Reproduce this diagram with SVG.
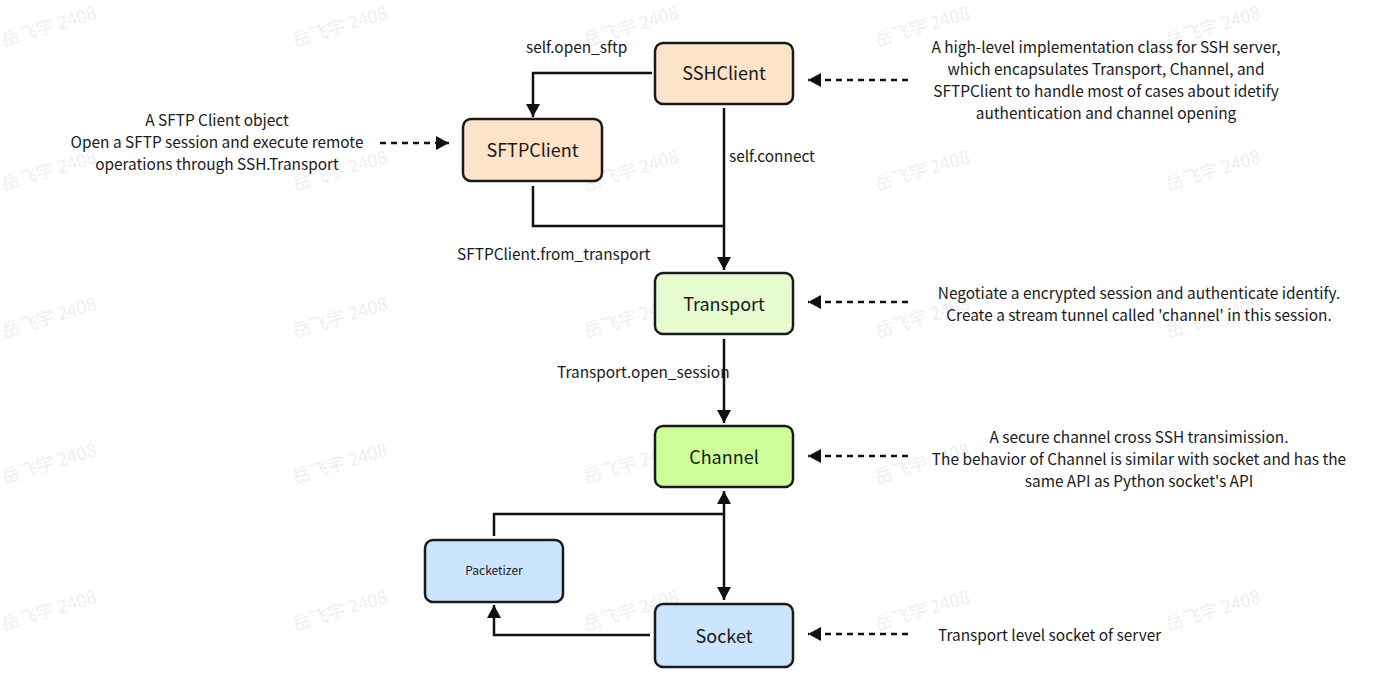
<svg xmlns="http://www.w3.org/2000/svg" width="1400" height="699" viewBox="0 0 1400 699">
<defs>
<style>
text{font-family:"Noto Sans CJK SC","Noto Sans",sans-serif;fill:#1a1a1a}
.wm{font-size:18px;fill:#efefef}
.node rect{stroke:#1a1a1a;stroke-width:2.5}
.lbl{font-size:18px;text-anchor:middle}
.t16{font-size:15.4px}
.mid{text-anchor:middle}
.conn{fill:none;stroke:#111;stroke-width:2.5}
.dash{fill:none;stroke:#111;stroke-width:2.5;stroke-dasharray:6 5}
</style>
<marker id="arr" markerUnits="userSpaceOnUse" markerWidth="14" markerHeight="14" refX="13" refY="7" orient="auto-start-reverse" viewBox="0 0 14 14">
<path d="M0,0 L13,7 L0,14 z" fill="#111"/>
</marker>
</defs>
<rect width="1400" height="699" fill="#fff"/>
<g id="watermarks">
<text class="wm" transform="translate(4,47) rotate(-17)">岳飞宇 2408</text>
<text class="wm" transform="translate(295,47) rotate(-17)">岳飞宇 2408</text>
<text class="wm" transform="translate(586,47) rotate(-17)">岳飞宇 2408</text>
<text class="wm" transform="translate(877,47) rotate(-17)">岳飞宇 2408</text>
<text class="wm" transform="translate(1168,47) rotate(-17)">岳飞宇 2408</text>
<text class="wm" transform="translate(4,191) rotate(-17)">岳飞宇 2408</text>
<text class="wm" transform="translate(295,191) rotate(-17)">岳飞宇 2408</text>
<text class="wm" transform="translate(586,191) rotate(-17)">岳飞宇 2408</text>
<text class="wm" transform="translate(877,191) rotate(-17)">岳飞宇 2408</text>
<text class="wm" transform="translate(1168,191) rotate(-17)">岳飞宇 2408</text>
<text class="wm" transform="translate(4,338) rotate(-17)">岳飞宇 2408</text>
<text class="wm" transform="translate(295,338) rotate(-17)">岳飞宇 2408</text>
<text class="wm" transform="translate(586,338) rotate(-17)">岳飞宇 2408</text>
<text class="wm" transform="translate(877,338) rotate(-17)">岳飞宇 2408</text>
<text class="wm" transform="translate(1168,338) rotate(-17)">岳飞宇 2408</text>
<text class="wm" transform="translate(4,484) rotate(-17)">岳飞宇 2408</text>
<text class="wm" transform="translate(295,484) rotate(-17)">岳飞宇 2408</text>
<text class="wm" transform="translate(586,484) rotate(-17)">岳飞宇 2408</text>
<text class="wm" transform="translate(877,484) rotate(-17)">岳飞宇 2408</text>
<text class="wm" transform="translate(1168,484) rotate(-17)">岳飞宇 2408</text>
<text class="wm" transform="translate(4,631) rotate(-17)">岳飞宇 2408</text>
<text class="wm" transform="translate(295,631) rotate(-17)">岳飞宇 2408</text>
<text class="wm" transform="translate(586,631) rotate(-17)">岳飞宇 2408</text>
<text class="wm" transform="translate(877,631) rotate(-17)">岳飞宇 2408</text>
<text class="wm" transform="translate(1168,631) rotate(-17)">岳飞宇 2408</text>
</g>
<g id="connectors">
<path class="conn" d="M652,73 H533 V117" marker-end="url(#arr)"/>
<path class="conn" d="M724,108 V270" marker-end="url(#arr)"/>
<path class="conn" d="M533,186 V226 H724"/>
<path class="conn" d="M724,339 V423" marker-end="url(#arr)"/>
<path class="conn" d="M724,491 V600" marker-start="url(#arr)" marker-end="url(#arr)"/>
<path class="conn" d="M724,514 H494 V536"/>
<path class="conn" d="M650,635 H494 V605" marker-end="url(#arr)"/>
<path class="dash" d="M908,80 H808" marker-end="url(#arr)"/>
<path class="dash" d="M908,302 H808" marker-end="url(#arr)"/>
<path class="dash" d="M908,456 H808" marker-end="url(#arr)"/>
<path class="dash" d="M908,634 H808" marker-end="url(#arr)"/>
<path class="dash" d="M380,143 H449" marker-end="url(#arr)"/>
<text class="t16" x="526" y="53">self.open_sftp</text>
<text class="t16" x="729" y="162">self.connect</text>
<text class="t16" x="457" y="260">SFTPClient.from_transport</text>
<text class="t16" x="557" y="378">Transport.open_session</text>
</g>
<g id="SSHClient" class="node">
<rect x="655" y="43" width="138" height="61" rx="8" fill="#fde3c8"/>
<text class="lbl" x="724" y="80">SSHClient</text>
</g>
<g id="SFTPClient" class="node">
<rect x="463" y="119" width="139" height="62" rx="8" fill="#fde3c8"/>
<text class="lbl" x="532.5" y="157">SFTPClient</text>
</g>
<g id="Transport" class="node">
<rect x="655" y="273" width="138" height="61" rx="8" fill="#e6fcd0"/>
<text class="lbl" x="724" y="311">Transport</text>
</g>
<g id="Channel" class="node">
<rect x="655" y="426" width="138" height="61" rx="8" fill="#cdfe9a"/>
<text class="lbl" x="724" y="464">Channel</text>
</g>
<g id="Packetizer" class="node">
<rect x="425" y="540" width="138" height="62" rx="8" fill="#cce5ff"/>
<text x="494" y="575" font-size="12" text-anchor="middle">Packetizer</text>
</g>
<g id="Socket" class="node">
<rect x="655" y="604" width="138" height="63" rx="8" fill="#cce5ff"/>
<text class="lbl" x="724" y="643">Socket</text>
</g>
<g id="annotations">
<text class="t16 mid" x="217" y="126">A SFTP Client object</text>
<text class="t16 mid" x="217" y="148">Open a SFTP session and execute remote</text>
<text class="t16 mid" x="217" y="170">operations through SSH.Transport</text>
<text class="t16 mid" x="1106" y="53">A high-level implementation class for SSH server,</text>
<text class="t16 mid" x="1106" y="75">which encapsulates Transport, Channel, and</text>
<text class="t16 mid" x="1106" y="97">SFTPClient to handle most of cases about idetify</text>
<text class="t16 mid" x="1106" y="119">authentication and channel opening</text>
<text class="t16 mid" x="1139" y="299">Negotiate a encrypted session and authenticate identify.</text>
<text class="t16 mid" x="1139" y="321">Create a stream tunnel called 'channel' in this session.</text>
<text class="t16 mid" x="1139" y="443">A secure channel cross SSH transimission.</text>
<text class="t16 mid" x="1139" y="465">The behavior of Channel is similar with socket and has the</text>
<text class="t16 mid" x="1139" y="487">same API as Python socket's API</text>
<text class="t16" x="938" y="641">Transport level socket of server</text>
</g>
</svg>
